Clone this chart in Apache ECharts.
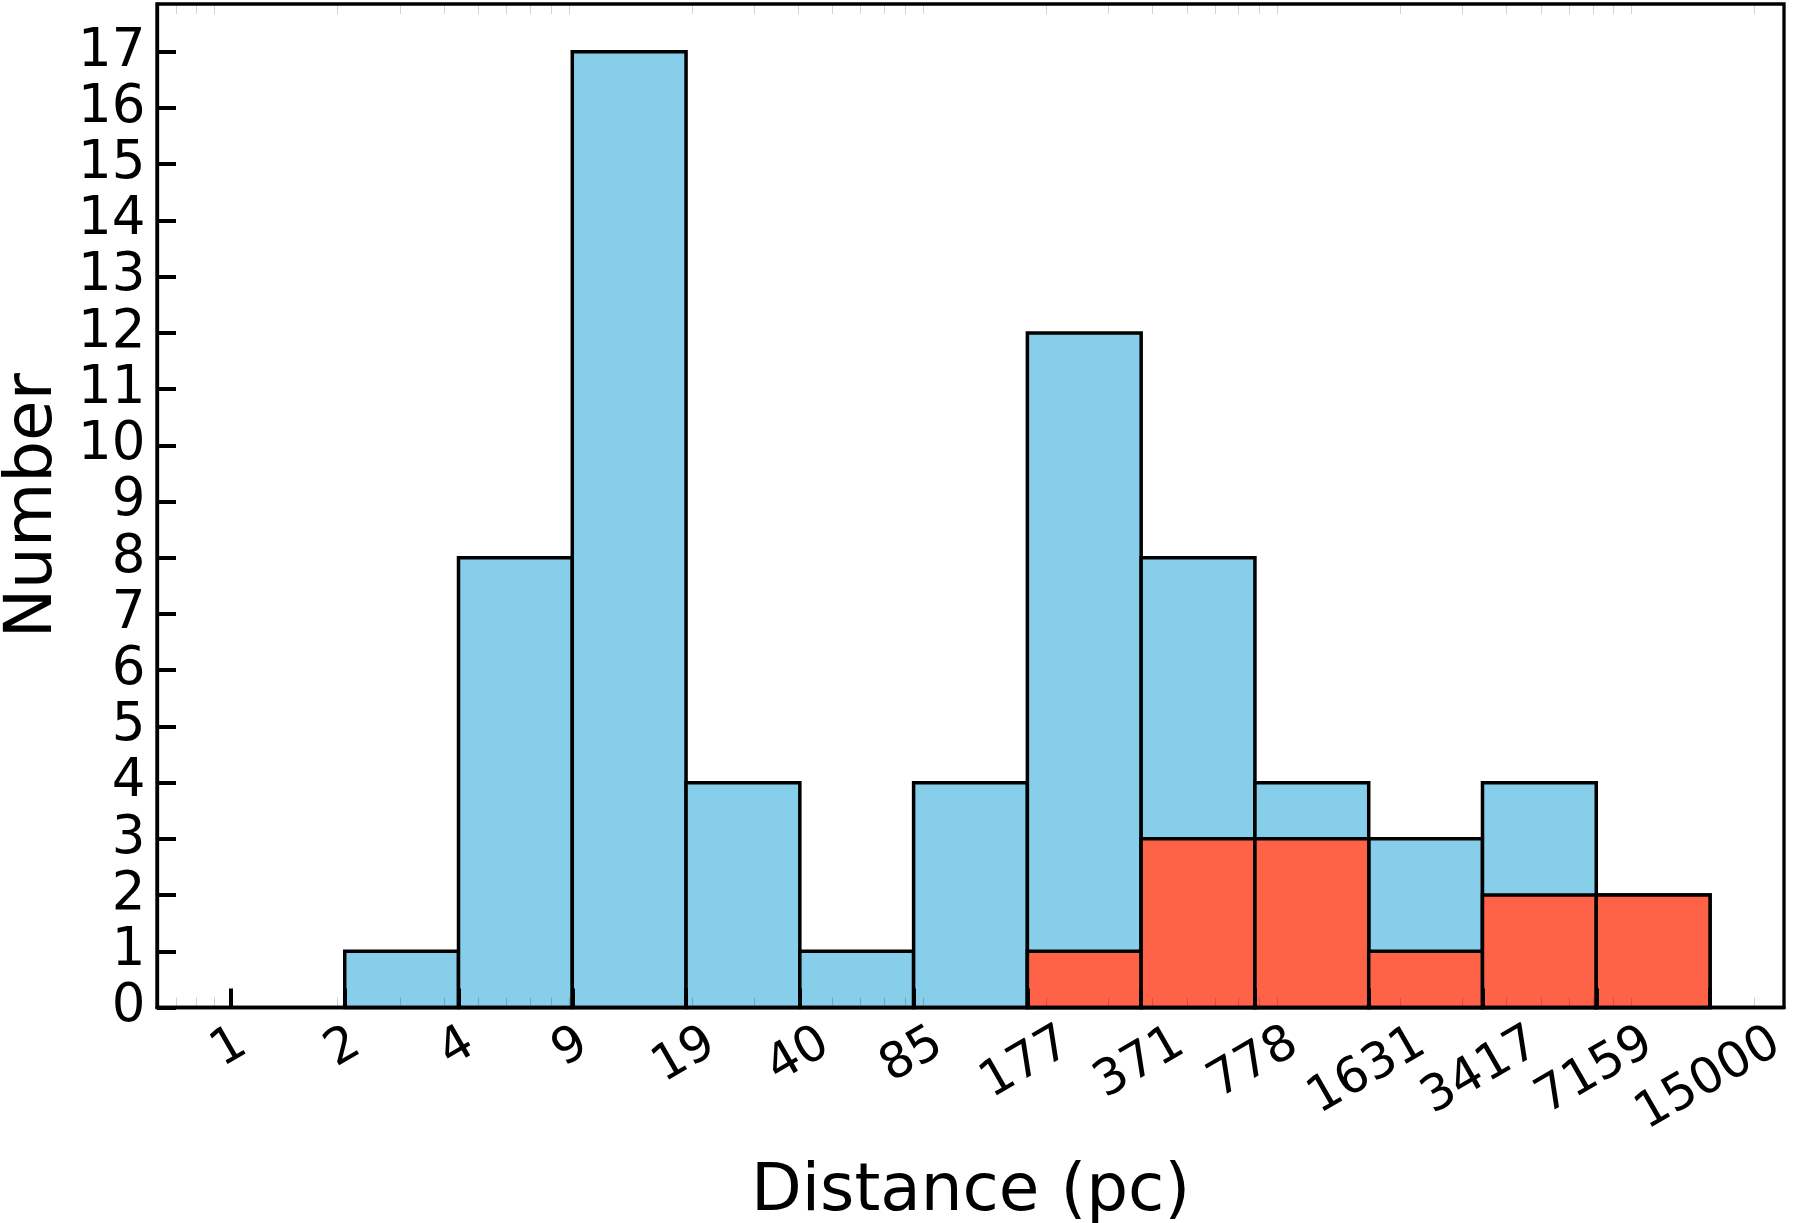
<!DOCTYPE html>
<html>
<head>
<meta charset="utf-8">
<script src="https://cdn.jsdelivr.net/npm/echarts@6/dist/echarts.min.js"></script>
<style>
  html, body { margin: 0; padding: 0; background: #fff; }
  #chart { width: 1793px; height: 1223px; }
</style>
</head>
<body>
<div id="chart"></div>
<script>
// Bin edge tick labels (log-spaced bins, 13 bins)
const binEdges = ['1', '2', '4', '9', '19', '40', '85', '177', '371', '778', '1631', '3417', '7159', '15000'];
// Counts per bin (total sample, blue)
const allCounts = [0, 1, 8, 17, 4, 1, 4, 12, 8, 4, 3, 4, 2];
// Counts per bin (subset, red)
const redCounts = [0, 0, 0, 0, 0, 0, 0, 1, 3, 3, 1, 2, 2];
// Y tick values
const yTicks = [0, 1, 2, 3, 4, 5, 6, 7, 8, 9, 10, 11, 12, 13, 14, 15, 16, 17];
// Minor log tick values
const minorVals = [0.7, 0.8, 0.9, 2, 3, 4, 5, 6, 7, 8, 9, 20, 30, 40, 50, 60, 70, 80, 90,
  200, 300, 400, 500, 600, 700, 800, 900, 2000, 3000, 4000, 5000, 6000, 7000, 8000, 9000, 20000];

const FONT = 'DejaVu Sans';
const XTICK_FS = 49.5;
const YTICK_FS = 53;
const nBins = binEdges.length - 1;
const lastEdge = +binEdges[binEdges.length - 1];
const edgeIdx = binEdges.map((_, i) => i);
const minorPos = minorVals.map(v => Math.log(v) / Math.log(lastEdge) * nBins);
const XMIN = -0.05 * nBins, XMAX = nBins * 1.05;

const chart = echarts.init(document.getElementById('chart'), null, { renderer: 'canvas' });

function barRenderer(color) {
  return function (params, api) {
    const i = api.value(0), c = api.value(1);
    if (!c) return null;
    const p0 = api.coord([i, c]);
    const p1 = api.coord([i + 1, 0]);
    return {
      type: 'rect',
      shape: { x: p0[0], y: p0[1], width: p1[0] - p0[0], height: p1[1] - p0[1] },
      style: { fill: color, stroke: '#000', lineWidth: 3.5 }
    };
  };
}

const baseX = {
  type: 'value', min: XMIN, max: XMAX, gridIndex: 0,
  splitLine: { show: false },
  axisLabel: { show: false }
};

const option = {
  backgroundColor: '#fff',
  animation: false,
  grid: {
    left: 157, top: 4, width: 1627, height: 1003.5,
    containLabel: false, outerBoundsMode: 'none',
    show: true, borderColor: '#000', borderWidth: 3.3, backgroundColor: 'transparent'
  },
  xAxis: [
    Object.assign({}, baseX, {
      position: 'bottom', z: 10,
      name: 'Distance (pc)', nameLocation: 'middle', nameGap: 152,
      nameTextStyle: { fontFamily: FONT, fontSize: 66, color: '#000' },
      axisLine: { show: true, onZero: false, lineStyle: { color: '#000', width: 3.3 } },
      axisTick: { show: true, inside: true, length: 19, customValues: edgeIdx, lineStyle: { color: '#000', width: 4 } }
    }),
    Object.assign({}, baseX, {
      position: 'bottom', z: 9,
      axisLine: { show: false, onZero: false },
      axisTick: { show: true, inside: true, length: 10, customValues: minorPos, lineStyle: { color: 'rgba(0,0,0,0.18)', width: 1 } }
    }),
    Object.assign({}, baseX, {
      position: 'top', z: 9,
      axisLine: { show: false, onZero: false },
      axisTick: { show: true, inside: true, length: 10, customValues: minorPos, lineStyle: { color: 'rgba(0,0,0,0.18)', width: 1 } }
    })
  ],
  yAxis: {
    type: 'value', min: 0, max: 17.85, z: 10, position: 'left',
    name: 'Number', nameLocation: 'middle', nameGap: 83,
    nameTextStyle: { fontFamily: FONT, fontSize: 66, color: '#000' },
    splitLine: { show: false },
    axisLine: { show: true, onZero: false, lineStyle: { color: '#000', width: 3.3 } },
    axisTick: { show: true, inside: true, length: 19, customValues: yTicks, lineStyle: { color: '#000', width: 4 } },
    axisLabel: { show: true, customValues: yTicks, margin: 11.5, fontFamily: FONT, fontSize: YTICK_FS, color: '#000' }
  },
  series: [
    {
      type: 'custom', name: 'All', xAxisIndex: 0, yAxisIndex: 0,
      renderItem: barRenderer('#87CEEB'),
      data: allCounts.map((c, i) => [i, c])
    },
    {
      type: 'custom', name: 'Subset', xAxisIndex: 0, yAxisIndex: 0,
      renderItem: barRenderer('#FF6347'),
      data: redCounts.map((c, i) => [i, c])
    },
    {
      type: 'custom', name: 'ticklabels', xAxisIndex: 0, yAxisIndex: 0, silent: true,
      clip: false,
      renderItem: function (params, api) {
        const i = api.value(0);
        const label = binEdges[i];
        const p = api.coord([i, 0]);
        const w = label.length * 0.636 * XTICK_FS;
        return {
          type: 'text',
          x: p[0] - 1.5,
          y: p[1] + 32.5 + w * 0.25,
          rotation: Math.PI / 6,
          style: {
            text: label,
            fontFamily: FONT, fontSize: XTICK_FS,
            fill: '#000',
            align: 'center', verticalAlign: 'middle',
            textAlign: 'center', textVerticalAlign: 'middle'
          }
        };
      },
      data: edgeIdx.map(i => [i, 0])
    }
  ]
};
chart.setOption(option);
</script>
</body>
</html>
